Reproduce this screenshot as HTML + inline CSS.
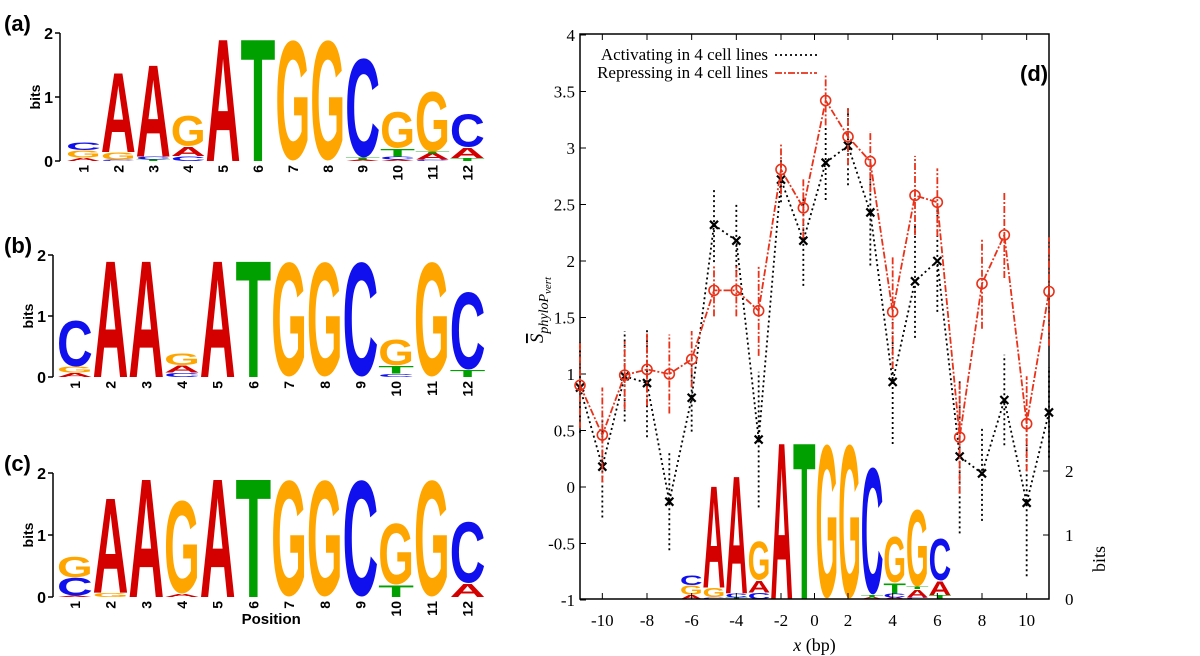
<!DOCTYPE html>
<html><head><meta charset="utf-8"><style>
html,body{margin:0;padding:0;background:#fff;}
svg{display:block;}
</style></head><body>
<svg id="fig" width="1200" height="656" viewBox="0 0 1200 656" xmlns="http://www.w3.org/2000/svg">
<g id="left"></g>
<g id="chart"></g>
</svg>
<script>
// ---- Chart data ----
const xValues = [-11,-10,-9,-8,-7,-6,-5,-4,-3,-2,-1,1,2,3,4,5,6,7,8,9,10,11];
const activating = [0.88,0.18,0.98,0.92,-0.13,0.79,2.32,2.18,0.42,2.72,2.18,2.87,3.02,2.43,0.93,1.82,2.0,0.27,0.12,0.77,-0.14,0.66];
const activatingErr = [0.4,0.45,0.4,0.48,0.43,0.3,0.33,0.32,0.6,0.2,0.4,0.33,0.35,0.47,0.55,0.5,0.45,0.68,0.42,0.4,0.65,0.4];
const repressing = [0.9,0.46,0.99,1.04,1.0,1.13,1.74,1.74,1.56,2.81,2.47,3.42,3.1,2.88,1.55,2.58,2.52,0.44,1.8,2.23,0.56,1.73];
const repressingErr = [0.38,0.42,0.3,0.32,0.35,0.25,0.23,0.23,0.4,0.22,0.27,0.22,0.25,0.27,0.5,0.35,0.3,0.5,0.4,0.38,0.42,0.48];
const yTicks = [-1,-0.5,0,0.5,1,1.5,2,2.5,3,3.5,4];
const xTickLabels = [-10,-8,-6,-4,-2,0,2,4,6,8,10];
const bitsTicks = [0,1,2];
const logoA = [[["A",.05],["G",.12],["C",.13]],[["C",.02],["G",.12],["A",1.3]],[["T",.02],["C",.05],["A",1.5]],[["C",.08],["A",.15],["G",.5]],[["A",2]],[["T",2]],[["G",2]],[["G",2]],[["A",.02],["T",.03],["C",1.65]],[["A",.02],["C",.05],["T",.13],["G",.6]],[["C",.02],["A",.1],["T",.03],["G",1.0]],[["T",.05],["A",.17],["C",.55]]];
const logoB = [[["A",.07],["G",.1],["C",.8]],[["A",2]],[["A",2]],[["C",.07],["A",.12],["G",.2]],[["A",2]],[["T",2]],[["G",2]],[["G",2]],[["C",2]],[["C",.06],["T",.13],["G",.45]],[["G",2]],[["T",.12],["C",1.35]]];
const logoC = [[["A",.02],["C",.3],["G",.35]],[["G",.07],["A",1.6]],[["A",2]],[["A",.05],["G",1.6]],[["A",2]],[["T",2]],[["G",2]],[["G",2]],[["C",2]],[["T",.2],["G",1.05]],[["G",2]],[["A",.22],["C",1.05]]];

const NS="http://www.w3.org/2000/svg";
const COL={A:"#d40000",C:"#1010ee",G:"#ffa500",T:"#00a000"};
function el(tag,attrs,parent,txt){const e=document.createElementNS(NS,tag);for(const k in attrs)e.setAttribute(k,attrs[k]);if(txt!==undefined)e.textContent=txt;parent.appendChild(e);return e;}

function drawLogo(parent,data,x0,colW,yb,pxPerBit){
  data.forEach((stack,i)=>{
    let y=yb;
    stack.forEach(([ch,h])=>{
      const hp=h*pxPerBit;
      const round=(ch==="C"||ch==="G");
      const gh=round?75.5:72.9;
      const sy=hp/gh;
      const base=round? y-1.3*sy : y;
      const t=el("text",{x:0,y:0,"font-family":"Liberation Sans, sans-serif","font-weight":"bold","font-size":100,
        textLength:colW,lengthAdjust:"spacingAndGlyphs",fill:COL[ch],
        transform:`translate(${x0+i*colW},${base}) scale(1,${sy})`},parent,ch);
      
      
      y-=hp;
    });
  });
}

const left=document.getElementById("left");
function panel(label,data,axX,y0,ppb,colX,colW,showPos){
  const g=el("g",{},left);
  
  
  const lt=el("text",{x:4,y:y0-2*ppb-2,"font-family":"Liberation Sans, sans-serif","font-weight":"bold","font-size":22},g,"("+label+")");
  
  
  el("line",{x1:axX,y1:y0,x2:axX,y2:y0-2*ppb,stroke:"#000","stroke-width":1.5},g);
  [0,1,2].forEach(b=>{
    const yy=y0-b*ppb;
    el("line",{x1:axX-5,y1:yy,x2:axX,y2:yy,stroke:"#000","stroke-width":1.5},g);
    el("text",{x:axX-7,y:yy+6,"text-anchor":"end","font-family":"Liberation Sans, sans-serif","font-weight":"bold","font-size":16},g,String(b));
  });
  const bt=el("text",{x:0,y:0,transform:`translate(${axX-20},${y0-ppb}) rotate(-90)`,"text-anchor":"middle","font-family":"Liberation Sans, sans-serif","font-weight":"bold","font-size":14},g,"bits");
  
  
  drawLogo(g,data,colX,colW,y0,ppb);
  for(let i=0;i<12;i++){
    el("text",{x:0,y:0,transform:`translate(${colX+(i+0.5)*colW+5},${y0+4}) rotate(-90)`,"text-anchor":"end","font-family":"Liberation Sans, sans-serif","font-weight":"bold","font-size":14},g,String(i+1));
  }
  if(showPos){
    const p=el("text",{x:colX+6*colW,y:y0+27,"text-anchor":"middle","font-family":"Liberation Sans, sans-serif","font-weight":"bold","font-size":15},g,"Position");
    
    
  }
}
panel("a",logoA,60,161,64,66,34.9,false);
panel("b",logoB,53,377,61,57,35.7,false);
panel("c",logoC,53,597,62,57,35.7,true);

// ---- chart d ----
const ch=document.getElementById("chart");
const L=580,R=1049,T=34,B=599;
const pos=x=>x<0?x:x-1;
const X=x=>L+(pos(x)+11)*(R-L)/21;
const Xp=p=>L+(p+11)*(R-L)/21;
const Y=v=>487-113*v;
const serif="Liberation Serif, serif";

const inset=el("g",{},ch);


drawLogo(inset,logoA,680,22.6,B,82);

const fr=el("rect",{x:L,y:T,width:R-L,height:B-T,fill:"none",stroke:"#000","stroke-width":1.5},ch);


yTicks.forEach(v=>{
  const yy=Y(v);
  el("line",{x1:L,y1:yy,x2:L+6,y2:yy,stroke:"#000"},ch);
  const t=el("text",{x:L-5,y:yy+6,"text-anchor":"end","font-family":serif,"font-size":17},ch,String(v));
  
  
});
xTickLabels.forEach(v=>{
  const xx=v===0?Xp(-0.5):X(v);
  el("line",{x1:xx,y1:B,x2:xx,y2:B-6,stroke:"#000"},ch);
  el("line",{x1:xx,y1:T,x2:xx,y2:T+6,stroke:"#000"},ch);
  const t=el("text",{x:xx,y:B+27,"text-anchor":"middle","font-family":serif,"font-size":17},ch,String(v));
  
  
});
bitsTicks.forEach(b=>{
  const yy=B-b*64;
  el("line",{x1:R,y1:yy,x2:R-6,y2:yy,stroke:"#000"},ch);
  const t=el("text",{x:R+16,y:yy+6,"font-family":serif,"font-size":17},ch,String(b));
  
  
});
const bl=el("text",{x:0,y:0,transform:`translate(${R+56},${B-40}) rotate(-90)`,"text-anchor":"middle","font-family":serif,"font-size":18},ch,"bits");


const xt=el("text",{x:(L+R)/2,y:B+52,"text-anchor":"middle","font-family":serif,"font-size":18},ch);


xt.innerHTML='<tspan font-style="italic">x</tspan>  (bp)';
const yt=el("text",{x:0,y:0,transform:`translate(543,310) rotate(-90)`,"text-anchor":"middle","font-family":serif,"font-size":19},ch);


yt.innerHTML='<tspan font-style="italic" text-decoration="overline">S</tspan><tspan font-style="italic" font-size="14" dy="5">phyloP</tspan><tspan font-style="italic" font-size="11" dy="3">vert</tspan>';

function series(vals,errs,color,dash,marker,name){
  const g=el("g",{},ch);
  
  
  vals.forEach((v,i)=>{
    const xx=X(xValues[i]);
    const e=el("line",{x1:xx,y1:Y(v-errs[i]),x2:xx,y2:Y(v+errs[i]),stroke:color,"stroke-width":1.8,"stroke-dasharray":dash},g);
    
    
  });
  const pts=vals.map((v,i)=>X(xValues[i])+","+Y(v)).join(" ");
  const pl=el("polyline",{points:pts,fill:"none",stroke:color,"stroke-width":1.8,"stroke-dasharray":dash},g);
  
  
  vals.forEach((v,i)=>{
    const xx=X(xValues[i]),yy=Y(v);
    let m;
    if(marker==="x"){m=el("path",{d:`M${xx-4},${yy-4}L${xx+4},${yy+4}M${xx-4},${yy+4}L${xx+4},${yy-4}`,stroke:color,"stroke-width":2.2,fill:"none"},g);}
    else{m=el("circle",{cx:xx,cy:yy,r:5,stroke:color,"stroke-width":1.6,fill:"none"},g);}
    
    
  });
}
series(activating,activatingErr,"#000","2,3","x","activating-series");
series(repressing,repressingErr,"#e8321a","7,2,2,2","o","repressing-series");

const lg=el("g",{},ch);


const l1=el("text",{x:768,y:60,"text-anchor":"end","font-family":serif,"font-size":17},lg,"Activating in 4 cell lines");


el("line",{x1:775,y1:55,x2:817,y2:55,stroke:"#000","stroke-width":1.8,"stroke-dasharray":"2,3"},lg);
const l2=el("text",{x:768,y:78,"text-anchor":"end","font-family":serif,"font-size":17},lg,"Repressing in 4 cell lines");


el("line",{x1:775,y1:73,x2:817,y2:73,stroke:"#e8321a","stroke-width":1.8,"stroke-dasharray":"7,2,2,2"},lg);
const dl=el("text",{x:1020,y:81,"font-family":"Liberation Sans, sans-serif","font-weight":"bold","font-size":22},ch,"(d)");


</script>
</body></html>
